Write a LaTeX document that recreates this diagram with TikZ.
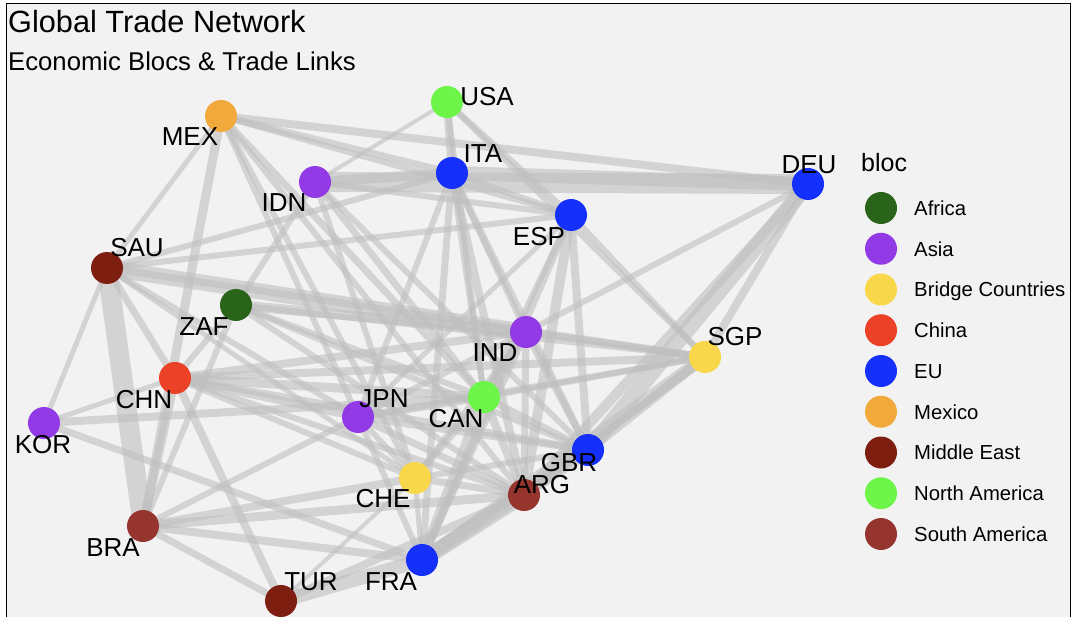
\documentclass[tikz,border=0pt]{standalone}
\usepackage{fontspec}
\setmainfont{Liberation Sans}
\usetikzlibrary{backgrounds}
\definecolor{panelbg}{RGB}{242,242,242}
\definecolor{cAfrica}{RGB}{42,100,26}
\definecolor{cAsia}{RGB}{145,58,230}
\definecolor{cBridge}{RGB}{248,216,74}
\definecolor{cChina}{RGB}{234,65,39}
\definecolor{cEU}{RGB}{20,48,250}
\definecolor{cMexico}{RGB}{241,169,60}
\definecolor{cMidEast}{RGB}{126,30,16}
\definecolor{cNAm}{RGB}{110,245,74}
\definecolor{cSAm}{RGB}{150,52,46}
\definecolor{edgegray}{RGB}{191,191,191}
\tikzset{
  country/.style={circle, minimum size=32pt, inner sep=0pt, draw=none, fill=#1},
  lbl/.style={inner sep=0pt, font=\fontsize{26}{26}\selectfont},
  lk/.style={draw=edgegray, draw opacity=0.6, line width=#1},
  legtxt/.style={inner sep=0pt, anchor=base west, font=\fontsize{20.3}{20.3}\selectfont},
}
\begin{document}
\begin{tikzpicture}[x=1pt,y=-1pt]
\useasboundingbox (0,0) rectangle (1078,617);
% nodes
\node[country=cMexico]  (MEX) at (221,116) {};
\node[country=cNAm]     (USA) at (447,102) {};
\node[country=cEU]      (ITA) at (452,173) {};
\node[country=cAsia]    (IDN) at (315,182) {};
\node[country=cEU]      (DEU) at (808,184) {};
\node[country=cEU]      (ESP) at (571,215) {};
\node[country=cMidEast] (SAU) at (107,268) {};
\node[country=cAfrica]  (ZAF) at (236,305) {};
\node[country=cAsia]    (IND) at (526,332) {};
\node[country=cBridge]  (SGP) at (705,357) {};
\node[country=cChina]   (CHN) at (175,378) {};
\node[country=cAsia]    (KOR) at (44,423) {};
\node[country=cAsia]    (JPN) at (358,417) {};
\node[country=cNAm]     (CAN) at (484,397) {};
\node[country=cEU]      (GBR) at (588,450) {};
\node[country=cBridge]  (CHE) at (415,478) {};
\node[country=cSAm]     (ARG) at (524,495) {};
\node[country=cSAm]     (BRA) at (143,526) {};
\node[country=cEU]      (FRA) at (422,560) {};
\node[country=cMidEast] (TUR) at (281,601) {};
\begin{scope}[on background layer]
\fill[white] (0,0) rectangle (1078,617);
\draw[fill=panelbg, draw=black, line width=1.2pt] (6.5,3.5) rectangle (1070.5,625);
% edges
\foreach \a/\b/\w in {
 MEX/DEU/8, MEX/ITA/7, MEX/ESP/6, MEX/SAU/5, MEX/BRA/9, MEX/JPN/6, MEX/CHE/6, MEX/CAN/7, MEX/ARG/6,
 USA/IDN/4, USA/ITA/8, USA/ESP/6, USA/SGP/6, USA/CAN/6,
 ITA/DEU/14, ITA/IDN/10, ITA/ESP/6, ITA/SAU/6, ITA/JPN/6, ITA/FRA/7, ITA/ARG/8, ITA/CAN/6, ITA/GBR/7, ITA/IND/6,
 IDN/DEU/20, IDN/ZAF/6, IDN/GBR/6, IDN/CHE/6, IDN/CAN/7, IDN/ESP/6,
 ESP/SAU/6, ESP/GBR/8, ESP/ARG/10, ESP/FRA/8, ESP/CAN/6, ESP/SGP/6, ESP/JPN/5,
 DEU/SGP/8, DEU/ARG/10, DEU/GBR/16, DEU/IND/6,
 SGP/IND/7, SGP/CHN/8, SGP/CAN/6, SGP/ZAF/6, SGP/JPN/6, SGP/GBR/10, SGP/ARG/8, SGP/FRA/12, SGP/SAU/7,
 SAU/KOR/5, SAU/BRA/20, SAU/CHN/7, SAU/IND/16, SAU/JPN/6, SAU/CHE/5,
 ZAF/CHN/6, ZAF/BRA/6, ZAF/IND/10, ZAF/CAN/6, ZAF/GBR/6, ZAF/ARG/6,
 CHN/KOR/5, CHN/BRA/9, CHN/TUR/8, CHN/JPN/8, CHN/CAN/9, CHN/IND/8, CHN/GBR/7, CHN/ARG/6, CHN/CHE/6,
 KOR/CAN/8, KOR/FRA/7,
 BRA/TUR/7, BRA/JPN/6, BRA/CHE/8, BRA/ARG/9, BRA/FRA/8,
 TUR/FRA/14, TUR/CHE/4, TUR/ARG/8,
 FRA/ARG/16, FRA/GBR/14, FRA/CAN/10, FRA/IND/7, FRA/CHE/5, FRA/JPN/6,
 JPN/CAN/8, JPN/IND/6, JPN/ARG/7, JPN/GBR/7, JPN/CHE/6,
 CAN/IND/7, CAN/ARG/8, CAN/GBR/7, CAN/CHE/7,
 IND/ARG/7, IND/GBR/7, IND/CHE/6,
 CHE/ARG/7, CHE/GBR/6, ARG/GBR/8}
 {\draw[lk=\w pt] (\a.center) -- (\b.center);}
\end{scope}
% labels
\node[lbl] (MEX-l) at (190,137) {MEX};
\node[lbl] (USA-l) at (487,97) {USA};
\node[lbl] (ITA-l) at (483,154) {ITA};
\node[lbl] (IDN-l) at (284,203) {IDN};
\node[lbl] (DEU-l) at (809,165) {DEU};
\node[lbl] (ESP-l) at (539,237) {ESP};
\node[lbl] (SAU-l) at (137,248) {SAU};
\node[lbl] (ZAF-l) at (204,327) {ZAF};
\node[lbl] (IND-l) at (495,353) {IND};
\node[lbl] (SGP-l) at (735,337) {SGP};
\node[lbl] (CHN-l) at (144,400) {CHN};
\node[lbl] (KOR-l) at (43,445) {KOR};
\node[lbl] (JPN-l) at (384,399) {JPN};
\node[lbl] (CAN-l) at (456,419) {CAN};
\node[lbl] (GBR-l) at (569,463) {GBR};
\node[lbl] (CHE-l) at (383,499) {CHE};
\node[lbl] (ARG-l) at (542,485) {ARG};
\node[lbl] (BRA-l) at (113,548) {BRA};
\node[lbl] (TUR-l) at (311,582) {TUR};
\node[lbl] (FRA-l) at (391,582) {FRA};
% titles
\node[inner sep=0pt, anchor=base west, font=\fontsize{30.7}{30.7}\selectfont] (title) at (8,33) {Global Trade Network};
\node[inner sep=0pt, anchor=base west, font=\fontsize{25.7}{25.7}\selectfont] (subtitle) at (8,71) {Economic Blocs \& Trade Links};
% legend
\node[inner sep=0pt, anchor=base west, font=\fontsize{25}{25}\selectfont] (legtitle) at (861,172) {bloc};
\foreach \c/\t [count=\i from 0] in {cAfrica/Africa, cAsia/Asia, cBridge/Bridge Countries, cChina/China, cEU/EU, cMexico/Mexico, cMidEast/Middle East, cNAm/North America, cSAm/South America}{
  \node[country=\c] (leg\i) at (881,{208+40.75*\i}) {};
  \node[legtxt] (legt\i) at (914,{215.3+40.75*\i}) {\t};
}
\end{tikzpicture}
\end{document}
